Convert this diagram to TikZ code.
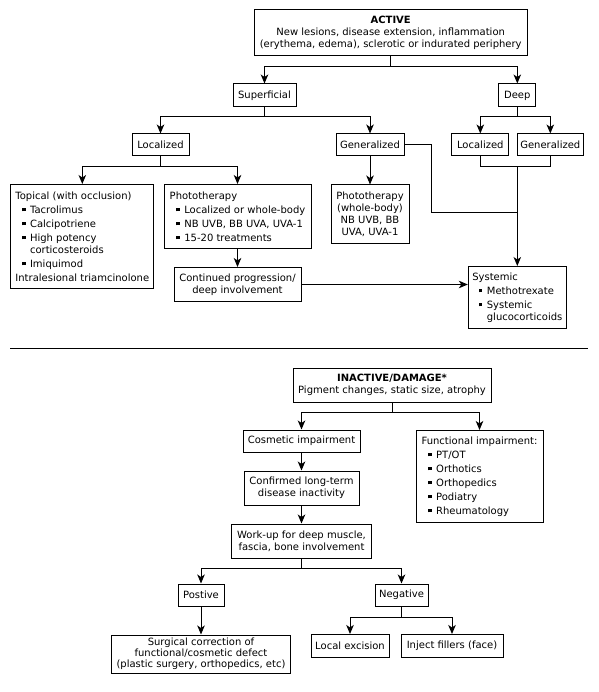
\documentclass[tikz,border=0pt]{standalone}
\usepackage{fontspec}
\setmainfont{DejaVu Sans}
\usetikzlibrary{arrows.meta,positioning,calc}
\newcommand{\itm}[1]{\hspace*{6.5pt}\rule[1.8pt]{3.6pt}{3.6pt}\hspace{4.5pt}#1}
\newcommand{\cnt}[1]{\hspace*{14.6pt}#1}

\begin{document}
\begin{tikzpicture}[x=1pt,y=-1pt,
    box/.style={draw,line width=1pt,inner xsep=3pt,inner ysep=2pt,
      font=\fontsize{10pt}{12pt}\selectfont,minimum height=22pt},
    arr/.style={-{Stealth[length=9pt,width=7.5pt,inset=2.5pt]},line width=1pt}]
 \useasboundingbox (0,0) rectangle (598,692);
 % active disease
 \node[box,align=center,minimum width=273pt,minimum height=46pt] (act) at (390.7,33)
  {\textbf{ACTIVE}\\ New lesions, disease extension, inflammation\\ (erythema, edema), sclerotic or indurated periphery};
 \node[box,minimum width=63pt,minimum height=23pt] (sup) at (264.5,95.5) {Superficial};
 \node[box,minimum width=37pt,minimum height=23pt] (deep) at (517.3,95.5) {Deep};
 \node[box,minimum width=57pt] (loc) at (160.5,145) {Localized};
 \node[box,minimum width=68pt] (gen) at (370,145) {Generalized};
 \node[box,minimum width=57pt] (dloc) at (480.3,145) {Localized};
 \node[box,minimum width=63pt] (dgen) at (550.3,145) {Generalized};
 \node[box,align=left,anchor=north,minimum width=143pt,minimum height=104pt] (top) at (82.3,184)
  {Topical (with occlusion)\\[2pt] \itm{Tacrolimus}\\[2pt] \itm{Calcipotriene}\\[2pt]
   \itm{High potency}\\ \cnt{corticosteroids}\\[2pt] \itm{Imiquimod}\\[2pt] Intralesional triamcinolone};
 \node[box,align=left,anchor=north,minimum width=147pt,minimum height=64pt] (photo) at (237.5,184)
  {Phototherapy\\[2pt] \itm{Localized or whole-body}\\[2pt] \itm{NB UVB, BB UVA, UVA-1}\\[2pt] \itm{15-20 treatments}};
 \node[box,align=center,below=28pt of gen,minimum width=78pt,minimum height=59pt] (photow)
  {Phototherapy\\ (whole-body)\\ NB UVB, BB\\ UVA, UVA-1};
 \node[box,align=center,below=18pt of photo,minimum width=127pt,minimum height=34pt] (cont)
  {Continued progression/\\ deep involvement};
 \node[box,align=left,anchor=north,minimum width=98pt,minimum height=62pt] (sys) at (517.3,266)
  {Systemic\\[2pt] \itm{Methotrexate}\\[2pt] \itm{Systemic}\\ \cnt{glucocorticoids}};
 \path[arr,to path={-- ++(0,9.7) -| (\tikztotarget)}] foreach \T in {sup,deep} {(act.south) edge (\T)};
 \path[arr,to path={-- ++(0,9) -| (\tikztotarget)}] foreach \T in {loc,gen} {(sup.south) edge (\T)};
 \path[arr,to path={-- ++(0,9) -| (\tikztotarget)}] foreach \T in {dloc,dgen} {(deep.south) edge (\T)};
 \path[arr,to path={-- ++(0,10) -| (\tikztotarget)}] foreach \T in {top,photo} {(loc.south) edge (\T)};
 \draw[arr] (gen) -- (photow);
 \draw[line width=1pt] (dloc.south) -- ++(0,10) coordinate (dl) -| (dgen.south);
 \draw[arr] (dl -| deep) -- (sys);
 \draw[line width=1pt] (gen.east) -- ++(27,0) |- ($(dl -| deep)+(0,46)$);
 \draw[arr] (photo) -- (cont);
 \draw[arr] (cont) -- (cont -| sys.west);
 % separator
 \draw[line width=1pt] (10,348) -- (588,348);
 % inactive disease
 \node[box,align=center,minimum width=198pt,minimum height=34pt] (inact) at (392,385)
  {\textbf{INACTIVE/DAMAGE*}\\ Pigment changes, static size, atrophy};
 \node[box,minimum width=117pt] (cos) at (301.5,441) {Cosmetic impairment};
 \node[box,align=left,anchor=north,minimum width=127pt,minimum height=92pt] (func) at (479.5,430)
  {Functional impairment:\\[2pt] \itm{PT/OT}\\[2pt] \itm{Orthotics}\\[2pt] \itm{Orthopedics}\\[2pt]
   \itm{Podiatry}\\[2pt] \itm{Rheumatology}};
 \node[box,align=center,below=18pt of cos,minimum width=115pt,minimum height=34pt] (conf)
  {Confirmed long-term\\ disease inactivity};
 \node[box,align=center,below=18pt of conf,minimum width=140pt,minimum height=34pt] (work)
  {Work-up for deep muscle,\\ fascia, bone involvement};
 \node[box,minimum width=46pt] (pos) at (201,595) {Postive};
 \node[box,minimum width=53pt] (neg) at (401.5,595) {Negative};
 \node[box,align=center,below=28pt of pos,minimum width=179pt,minimum height=38pt,
   font=\fontsize{10pt}{11pt}\selectfont] (surg)
  {Surgical correction of\\ functional/cosmetic defect\\ (plastic surgery, orthopedics, etc)};
 \node[box,anchor=north,minimum width=78pt,minimum height=23pt] (lexc) at (350,634) {Local excision};
 \node[box,anchor=north,minimum width=102pt,minimum height=23pt] (inj) at (452,634) {Inject fillers (face)};
 \path[arr,to path={-- ++(0,10) -| (\tikztotarget)}] foreach \T in {cos,func} {(inact.south) edge (\T)};
 \draw[arr] (cos) -- (conf);
 \draw[arr] (conf) -- (work);
 \path[arr,to path={-- ++(0,10) -| (\tikztotarget)}] foreach \T in {pos,neg} {(work.south) edge (\T)};
 \draw[arr] (pos) -- (surg);
 \path[arr,to path={-- ++(0,11) -| (\tikztotarget)}] foreach \T in {lexc,inj} {(neg.south) edge (\T)};
\end{tikzpicture}
\end{document}
